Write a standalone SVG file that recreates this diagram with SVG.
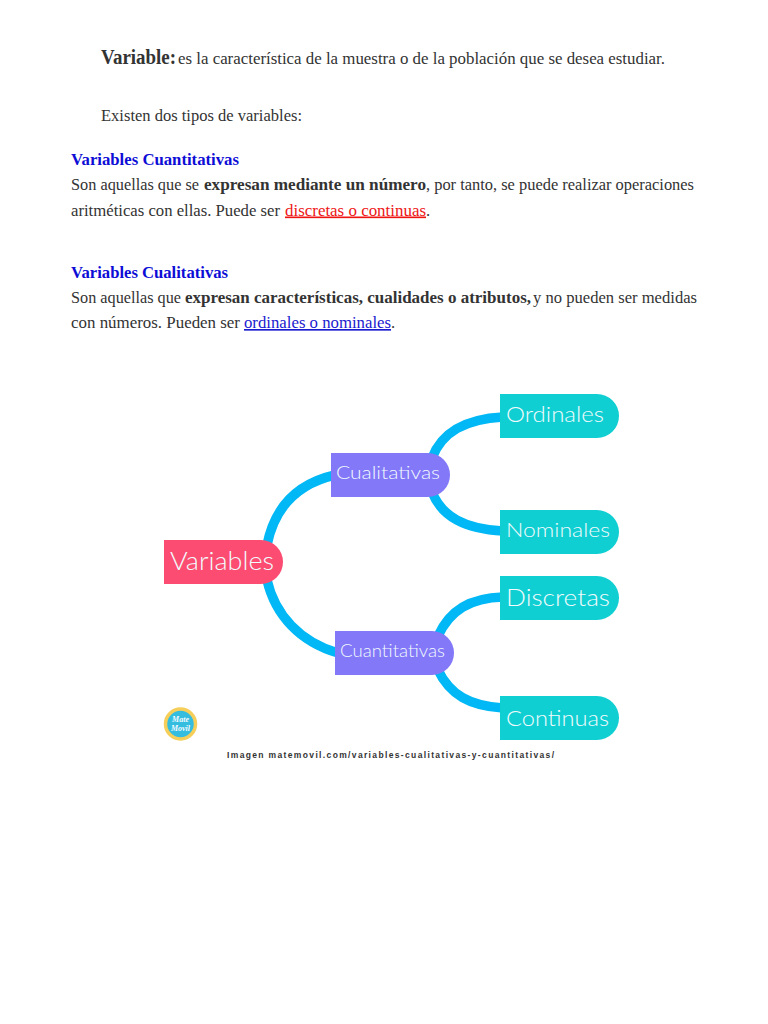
<svg xmlns="http://www.w3.org/2000/svg" width="768" height="1024" viewBox="0 0 768 1024">
<style>
.t{font-family:"Liberation Serif","DejaVu Serif",serif;font-size:16.5px;fill:#333}
.b{font-weight:bold}
.v{font-size:20.5px}
.h{font-family:"Liberation Serif","DejaVu Serif",serif;font-size:16.5px;font-weight:bold;fill:#0d0dd6}
.r{fill:#ee1414;text-decoration:underline}
.l{fill:#1a1ad0;text-decoration:underline}
.c{fill:none;stroke:#00b8f5;stroke-width:9.5}
.n{font-family:Lato,"Noto Sans",sans-serif;font-weight:300;fill:#f2fbfd}
.pink{fill:#fc4c72}.pur{fill:#8278f8}.teal{fill:#0fcfd2}
.m{font-family:"Liberation Serif",serif;font-style:italic;font-weight:bold;font-size:8px;fill:#f4fbff;text-anchor:middle}
</style>
<rect width="768" height="1024" fill="#fff"/>
<g id="texto">
<text class="t b v" x="101" y="63.500" textLength="75" lengthAdjust="spacingAndGlyphs">Variable:</text>
<text class="t" x="178" y="63.500" textLength="487" lengthAdjust="spacingAndGlyphs">es la característica de la muestra o de la población que se desea estudiar.</text>
<text class="t" x="101" y="121" textLength="201" lengthAdjust="spacingAndGlyphs">Existen dos tipos de variables:</text>
<text class="h" x="71" y="164.500" textLength="168" lengthAdjust="spacingAndGlyphs">Variables Cuantitativas</text>
<text class="t" x="71" y="189.500" textLength="128" lengthAdjust="spacingAndGlyphs">Son aquellas que se</text>
<text class="t b" x="204" y="189.500" textLength="222" lengthAdjust="spacingAndGlyphs">expresan mediante un número</text>
<text class="t" x="426" y="189.500" textLength="268" lengthAdjust="spacingAndGlyphs">, por tanto, se puede realizar operaciones</text>
<text class="t" x="71" y="215.500" textLength="209" lengthAdjust="spacingAndGlyphs">aritméticas con ellas. Puede ser</text>
<text class="t r" x="285" y="215.500" textLength="141" lengthAdjust="spacingAndGlyphs">discretas o continuas</text>
<text class="t" x="426" y="215.500">.</text>
<text class="h" x="71" y="277.500" textLength="157" lengthAdjust="spacingAndGlyphs">Variables Cualitativas</text>
<text class="t" x="71" y="302.500" textLength="110" lengthAdjust="spacingAndGlyphs">Son aquellas que</text>
<text class="t b" x="185" y="302.500" textLength="346" lengthAdjust="spacingAndGlyphs">expresan características, cualidades o atributos,</text>
<text class="t" x="533" y="302.500" textLength="164" lengthAdjust="spacingAndGlyphs">y no pueden ser medidas</text>
<text class="t" x="71" y="328" textLength="169" lengthAdjust="spacingAndGlyphs">con números. Pueden ser</text>
<text class="t l" x="244" y="328" textLength="147" lengthAdjust="spacingAndGlyphs">ordinales o nominales</text>
<text class="t" x="391" y="328">.</text>
</g>
<g id="conectores">
<path class="c" d="M267 545C275 505 300 483 335 475"/>
<path class="c" d="M267 580C275 615 300 642 338 653"/>
<path class="c" d="M432 458C442 432 465 419 503 417"/>
<path class="c" d="M432 492C442 517 465 529 503 531"/>
<path class="c" d="M438 636C450 610 470 598 503 597"/>
<path class="c" d="M438 670C450 695 470 706 503 708"/>
</g>
<g id="variables"><path class="pink" d="M164 540H261A22 22 0 0 1 261 584H164Z"/><text class="n" x="170" y="570" font-size="26" textLength="104" lengthAdjust="spacingAndGlyphs">Variables</text></g>
<g id="cualitativas"><path class="pur" d="M331 453H428A22 22 0 0 1 428 497H331Z"/><text class="n" x="336" y="479" font-size="18" textLength="104" lengthAdjust="spacingAndGlyphs">Cualitativas</text></g>
<g id="cuantitativas"><path class="pur" d="M335 631H432A22 22 0 0 1 432 675H335Z"/><text class="n" x="340" y="657" font-size="17" textLength="105" lengthAdjust="spacingAndGlyphs">Cuantitativas</text></g>
<g id="ordinales"><path class="teal" d="M500 394H597A22 22 0 0 1 597 438H500Z"/><text class="n" x="506" y="422" font-size="22" textLength="98" lengthAdjust="spacingAndGlyphs">Ordinales</text></g>
<g id="nominales"><path class="teal" d="M500 510H597A22 22 0 0 1 597 554H500Z"/><text class="n" x="506" y="537" font-size="20" textLength="104" lengthAdjust="spacingAndGlyphs">Nominales</text></g>
<g id="discretas"><path class="teal" d="M500 576H597A22 22 0 0 1 597 620H500Z"/><text class="n" x="506" y="606" font-size="24" textLength="104" lengthAdjust="spacingAndGlyphs">Discretas</text></g>
<g id="continuas"><path class="teal" d="M500 696H597A22 22 0 0 1 597 740H500Z"/><text class="n" x="506" y="726" font-size="22" textLength="103" lengthAdjust="spacingAndGlyphs">Continuas</text></g>
<g id="logo">
<circle cx="180.500" cy="724" r="15" fill="#35bde0" stroke="#f5cf5a" stroke-width="3.500"/>
<text class="m" x="180.500" y="722">Mate</text>
<text class="m" x="180.500" y="731">Movil</text>
</g>
<text id="pie" x="227" y="758" font-family="Liberation Sans,Arial,sans-serif" font-weight="bold" font-size="8.5" fill="#333" textLength="327">Imagen matemovil.com/variables-cualitativas-y-cuantitativas/</text>
</svg>
